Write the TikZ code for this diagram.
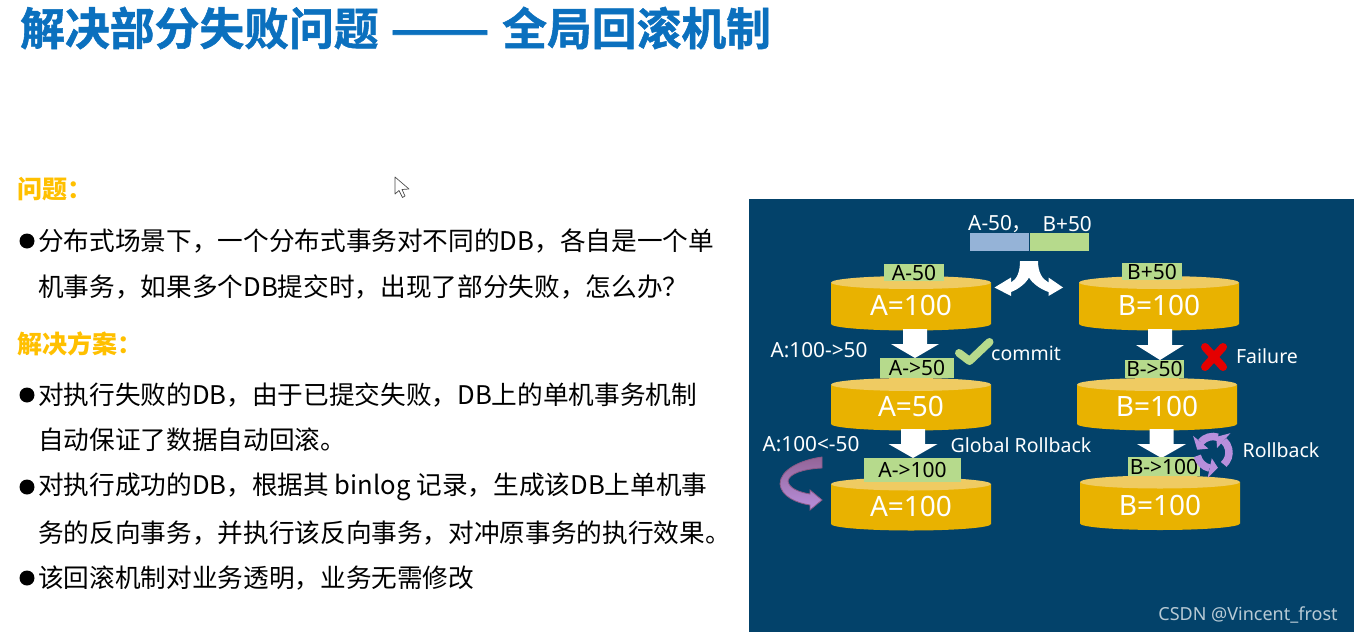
\documentclass[tikz,border=0pt]{standalone}
\usepackage{fontspec}
\newfontfamily\cjk{Noto Sans CJK SC}
\newfontfamily\cjkheavy[FakeBold=1.2]{Noto Sans CJK SC Bold}
\setmainfont{Noto Sans}
\definecolor{panel}{HTML}{03426A}
\definecolor{gold}{HTML}{E9B200}
\definecolor{goldtop}{HTML}{EFCB62}
\definecolor{lgreen}{HTML}{B6DA8C}
\definecolor{lblue}{HTML}{95B3D7}
\definecolor{titleblue}{HTML}{0B70BE}
\definecolor{headyellow}{HTML}{FFC000}
\definecolor{lilac}{HTML}{B88FDC}
\definecolor{darklilac}{HTML}{8A5A86}
\tikzset{
  x=1pt,y=-1pt,
  titletext/.style={anchor=west,inner sep=0pt,text=titleblue,font=\cjkheavy\fontsize{44.8}{50}\selectfont},
  headtext/.style={anchor=west,inner sep=0pt,text=headyellow,font=\cjk\bfseries\fontsize{25}{30}\selectfont},
  bodytext/.style={anchor=west,inner sep=0pt,text=black,font=\cjk\fontsize{25.65}{30}\selectfont},
  bulletdot/.style={circle,fill=black,inner sep=0pt,minimum size=15pt},
  wlabel/.style={inner sep=0pt,text=white,font=\fontsize{19.5}{23}\selectfont},
  wlabelb/.style={inner sep=0pt,text=white,font=\fontsize{20.8}{23}\selectfont},
  dbtext/.style={inner sep=0pt,text=white,font=\fontsize{28}{34}\selectfont},
  tag/.style={fill=lgreen,inner sep=0pt,text=black,font=\fontsize{21}{23}\selectfont},
  barcell/.style={inner sep=0pt},
  blockarrow/.style={fill=white,draw=none},
  rollband/.style={draw=lilac,line width=7.5pt},
}
% name, centre x, top ellipse centre y, y where the side ends, text, text y
\newcommand{\dbcyl}[6]{%
  \fill[gold] (#2-80,#3) -- (#2-80,#4) arc[start angle=180,end angle=360,x radius=80,y radius=-6.5] -- (#2+80,#3) -- cycle;
  \fill[goldtop] (#2,#3) ellipse[x radius=80,y radius=6.5];
  \node[dbtext] (#1) at (#2,#6) {#5};
}
% centre x, y top, y head start, y tip, half shaft, half head
\newcommand{\downarrowblock}[6]{%
  \fill[blockarrow] (#1-#5,#2) -- (#1+#5,#2) -- (#1+#5,#3) -- (#1+#6,#3) -- (#1,#4) -- (#1-#6,#3) -- (#1-#5,#3) -- cycle;
}
% one arc of the rollback cycle: start angle, end angle (counter-clockwise, head at the end)
\newcommand{\rollarc}[2]{%
  \draw[rollband] (#1:16) arc[start angle=#1,end angle=#2,radius=16];
  \fill[lilac] (#2:6) -- (#2:26) -- (#2+30:16) -- cycle;
}
\begin{document}
\begin{tikzpicture}
\useasboundingbox (0,0) rectangle (1354,634);
\fill[white] (0,0) rectangle (1354,634);
% left column
\node[titletext] (title) at (20,28) {解决部分失败问题};
\node[titletext,anchor=center] (titledash) at (440,38) {\scalebox{1.31}[1]{——}};
\node[titletext] (titleb) at (502,28) {全局回滚机制};
\node[headtext] (h1) at (17,189) {问题：};
\node[bulletdot] (b1) at (27,241) {};
\node[bodytext] (t1a) at (38,241) {分布式场景下，一个分布式事务对不同的DB，各自是一个单};
\node[bodytext] (t1b) at (38,287) {机事务，如果多个DB提交时，出现了部分失败，怎么办？};
\node[headtext] (h2) at (17,344) {解决方案：};
\node[bulletdot] (b2) at (27,395) {};
\node[bodytext] (t2a) at (38,395) {对执行失败的DB，由于已提交失败，DB上的单机事务机制};
\node[bodytext] (t2b) at (38,440) {自动保证了数据自动回滚。};
\node[bulletdot] (b3) at (27,487) {};
\node[bodytext] (t3a) at (38,487) {对执行成功的DB，根据其 binlog 记录，生成该DB上单机事};
\node[bodytext] (t3b) at (38,533) {务的反向事务，并执行该反向事务，对冲原事务的执行效果。};
\node[bulletdot] (b4) at (27,578) {};
\node[bodytext] (t4) at (38,578) {该回滚机制对业务透明，业务无需修改};
% mouse cursor
\draw[fill=white,draw=black!70,line width=.7pt,line join=round] (395,177) -- (395,194) -- (399,190.5) -- (402.5,197.5) -- (405,196) -- (402,189.5) -- (409,189) -- cycle;
% panel
\fill[panel] (749,199) rectangle (1354,632);
% transaction bar
\node[barcell,fill=lblue,minimum width=59pt,minimum height=18.5pt] (barA) at (999.5,242) {};
\node[barcell,fill=lgreen,minimum width=59pt,minimum height=18.5pt] (barB) at (1059.5,242) {};
\node[wlabelb,anchor=west] (barT) at (968,224) {A-50{\cjk ，}};
\node[wlabelb,anchor=east] (barU) at (1092,224) {B+50};
% fork arrow
\fill[white] (1020,261) -- (1038,261) .. controls (1038,272) and (1042,279) .. (1048.5,282.5) -- (1048.5,277.5) -- (1063,287.5) -- (1048.5,296) -- (1048.5,292)
  .. controls (1040,289) and (1032,283) .. (1029,277.5) .. controls (1026,283) and (1019,289) .. (1011,292) -- (1011,296) -- (994.5,287.5) -- (1011,277.5) -- (1011,282.5) .. controls (1017,279) and (1020,272) .. (1020,261) -- cycle;
% databases
\dbcyl{dbA1}{911}{282.5}{324}{A=100}{305}
\dbcyl{dbB1}{1159}{282.5}{324}{B=100}{305}
\dbcyl{dbA2}{911}{384.5}{424}{A=50}{406}
\dbcyl{dbB2}{1157}{384.5}{424}{B=100}{406}
\dbcyl{dbA3}{911}{484}{524}{A=100}{506}
\dbcyl{dbB3}{1160}{482}{523.5}{B=100}{505}
% down arrows
\downarrowblock{915}{329}{344}{358}{12}{24}
\downarrowblock{1160}{329}{345}{360}{12}{24}
\downarrowblock{913}{429}{444}{458}{12}{24.5}
\downarrowblock{1161.5}{429}{444}{458}{12}{24.5}
% tags
\node[tag,minimum width=60pt,minimum height=17pt] (tA1) at (914,272.5) {A-50};
\node[tag,minimum width=59.5pt,minimum height=17pt] (tB1) at (1152,271.5) {B+50};
\node[tag,minimum width=74.5pt,minimum height=20pt] (tA2) at (917,368) {A->50};
\node[tag,minimum width=59pt,minimum height=18pt] (tB2) at (1154.5,369) {B->50};
\node[tag,minimum width=97pt,minimum height=24pt] (tA3) at (912.5,470) {A->100};
\node[tag,minimum width=72pt,minimum height=19pt] (tB3) at (1164,466.5) {B->100};
% check and cross
\draw[lgreen,line width=8pt,line cap=round,line join=round] (959,353) -- (969.5,361) -- (989.5,342);
\draw[red!90!black,line width=8pt,line cap=round] (1205,347) -- (1223,367);
\draw[red!90!black,line width=8pt,line cap=round] (1223,347) -- (1205,367);
% labels
\node[wlabel] (lcommit) at (1026,353) {commit};
\node[wlabel] (lfail) at (1267,356) {Failure};
\node[wlabelb] (lA1) at (819,350) {A:100->50};
\node[wlabelb] (lA2) at (811,444) {A:100<-50};
\node[wlabel] (lgr) at (1021,445) {Global Rollback};
\node[wlabel] (lrb) at (1281,450) {Rollback};
% curved purple arrow
\path[top color=darklilac!80!lilac,bottom color=lilac,draw=darklilac,line width=.8pt] (822,457) .. controls (800,460) and (780,470) .. (780,484) .. controls (781,496) and (796,503) .. (810,505) -- (810,510) -- (822,500) -- (810,490) -- (810,494) .. controls (798,492) and (789,488) .. (788,481) .. controls (789,474) and (802,469) .. (822,468) -- cycle;
% rollback cycle
\begin{scope}[shift={(1213,452.5)},y=1pt]
  \rollarc{72}{140}
  \rollarc{-48}{48}
  \rollarc{192}{258}
\end{scope}
% watermark
\node[inner sep=0pt,text=white!72!panel,font=\fontsize{18}{22}\selectfont] (wm) at (1248,615) {CSDN @Vincent\_frost};
\end{tikzpicture}
\end{document}
